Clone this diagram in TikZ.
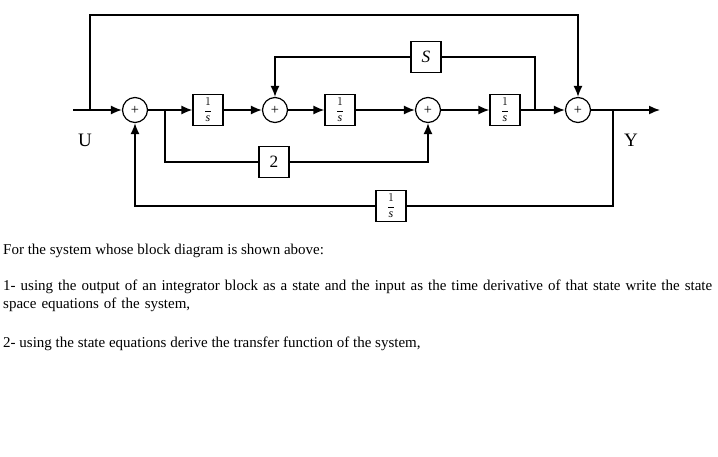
\documentclass[tikz,border=0pt]{standalone}
\usepackage{fontspec}
\setmainfont{Liberation Serif}
\usetikzlibrary{arrows.meta}
\newcommand{\intg}{$\displaystyle\frac{1}{\textit{s}}$}
\begin{document}
\begin{tikzpicture}
    [
        x=1pt, y=-1pt,
        >={Latex[length=11pt,width=9pt]},
        sum/.style={circle, draw, line width=1.2pt, minimum size=25pt, inner sep=0pt, font=\Large},
        block/.style={rectangle, draw, line width=1.2pt, minimum width=30pt, minimum height=31pt, inner sep=0pt, font=\large},
        line/.style={line width=1.5pt,},
        txt/.style={anchor=north west, inner sep=0pt, font=\fontsize{15}{18}\selectfont, align=left},
    ]
    \useasboundingbox (0,0) rectangle (718,456);

    % main path
    \coordinate (in) at (73,110);
    \coordinate (out) at (660,110);
    \node (s1) at (135,110) [sum] {+};
    \node (b1) at (208,110) [block] {\intg};
    \node (s2) at (275,110) [sum] {+};
    \node (b2) at (340,110) [block] {\intg};
    \node (s3) at (428,110) [sum] {+};
    \node (b3) at (505,110) [block] {\intg};
    \node (s4) at (578,110) [sum] {+};

    % feedback and feedforward blocks
    \node (bs) at (426,57)  [block, font=\LARGE] {\textit{S}};
    \node (b2x) at (274,162) [block, font=\LARGE] {2};
    \node (bf) at (391,206) [block] {\intg};

    % branch points
    \coordinate (j1) at (90,110);
    \coordinate (j2) at (165,110);
    \coordinate (j3) at (535,110);
    \coordinate (j4) at (613,110);

    \draw [line,->] (in) -- (s1);
    \draw [line,->] (s1) -- (b1);
    \draw [line,->] (b1) -- (s2);
    \draw [line,->] (s2) -- (b2);
    \draw [line,->] (b2) -- (s3);
    \draw [line,->] (s3) -- (b3);
    \draw [line,->] (b3) -- (s4);
    \draw [line,->] (s4) -- (out);

    \draw [line,->] (j1) |- (90,15) -| (s4);
    \draw [line] (j3) |- (bs);
    \draw [line,->] (bs) -| (s2);
    \draw [line] (j2) |- (b2x);
    \draw [line,->] (b2x) -| (s3);
    \draw [line] (j4) |- (bf);
    \draw [line,->] (bf) -| (s1);

    \node (u) at (85,140) [font=\fontsize{19}{19}\selectfont] {U};
    \node (y) at (631,140) [font=\fontsize{19}{19}\selectfont] {Y};

    % question text
    \node (t1) at (3,244) [txt] {For the system whose block diagram is shown above:};
    \node (t2) at (3,280) [txt, text width=712pt] {\raggedright 1- using the output of an integrator block as a state and the input as the time derivative of that state write the state space equations of the system,};
    \node (t3) at (3,337) [txt] {2- using the state equations derive the transfer function of the system,};
\end{tikzpicture}
\end{document}
